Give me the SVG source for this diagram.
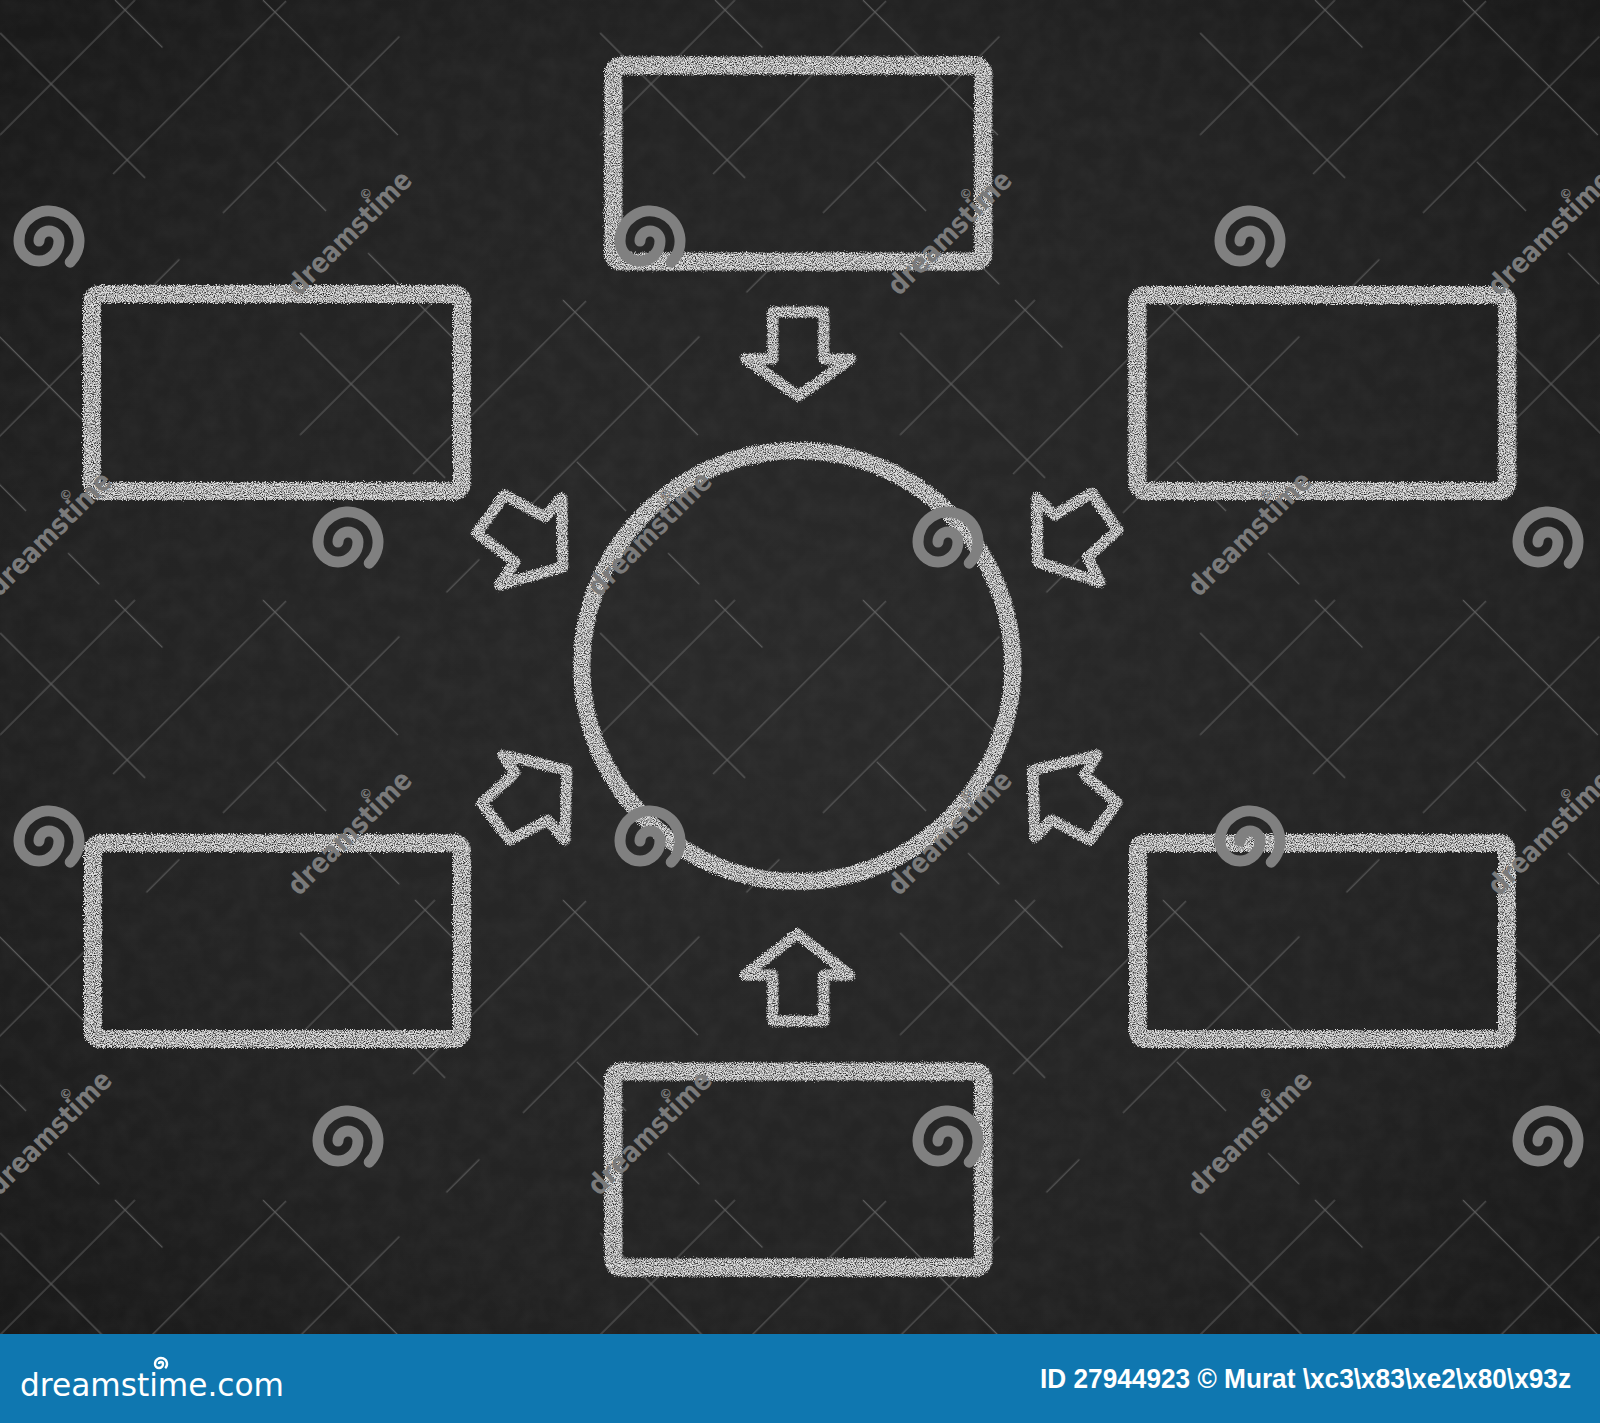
<svg xmlns="http://www.w3.org/2000/svg" xmlns:xlink="http://www.w3.org/1999/xlink" width="1600" height="1423" viewBox="0 0 1600 1423">
<defs>
<style>
.chalk{fill:none;stroke:#dedede;stroke-linejoin:round;stroke-linecap:round;filter:url(#chalkF)}
.box{stroke-width:18}
.ring{stroke-width:17}
.arr{stroke-width:11}
.wmtext{font-family:"DejaVu Sans","Liberation Sans",sans-serif;font-size:28px;font-weight:bold;fill:#7a7a7a}
.wmc{font-family:"DejaVu Sans","Liberation Sans",sans-serif;font-size:13px;font-weight:bold;fill:#7a7a7a}
.spiral{fill:none;stroke:#808080;stroke-width:11;stroke-linecap:round}
</style>
<radialGradient id="board" cx="50%" cy="47%" r="75%">
<stop offset="0" stop-color="#2a2a2a"/>
<stop offset="0.6" stop-color="#232323"/>
<stop offset="1" stop-color="#161616"/>
</radialGradient>
<filter id="chalkF" x="-10%" y="-10%" width="120%" height="120%" color-interpolation-filters="sRGB">
<feTurbulence type="fractalNoise" baseFrequency="0.9" numOctaves="2" seed="7" result="noise"/>
<feDisplacementMap in="SourceGraphic" in2="noise" scale="6" xChannelSelector="R" yChannelSelector="G" result="disp"/>
<feColorMatrix in="noise" type="matrix" values="0 0 0 0 0  0 0 0 0 0  0 0 0 0 0  2.8 0 0 0 -0.65" result="mask"/>
<feComposite in="disp" in2="mask" operator="in"/>
</filter>
<filter id="grain" x="0" y="0" width="100%" height="100%">
<feTurbulence type="fractalNoise" baseFrequency="0.05" numOctaves="3" seed="5"/>
<feColorMatrix type="matrix" values="0 0 0 0 1  0 0 0 0 1  0 0 0 0 1  0.05 0 0 0 -0.015"/>
</filter>
<pattern id="wmLines" patternUnits="userSpaceOnUse" width="424.26" height="424.26" patternTransform="translate(49 237) rotate(45)">
<path d="M245.4 314.6H424.26M0 314.6H26.2M303.3 210H370.5M108 210H177.5M237 210H281M0 105.4H174.7M408 105.4H424.26M317.5 195.9V386.8M0.8 89.8V334.5M106 34.6V284.3M108 347.9V394.6" fill="none" stroke="#8a8a8a" stroke-width="1.1" stroke-opacity="0.55"/>
</pattern>
<path id="sp" d="M-10 0 A10 10 0 0 1 10 0 A20 20 0 0 1 -30 0 A30 30 0 1 1 21.2 21.2"/>
</defs>

<rect x="0" y="0" width="1600" height="1423" fill="url(#board)"/>
<rect x="0" y="0" width="1600" height="1334" filter="url(#grain)"/>

<g id="connectors">
<polygon id="arrow-top" class="chalk arr" points="773,312 824,312 824,359 851,359 798.5,396 746,359 773,359"/>
<polygon id="arrow-bottom" class="chalk arr" points="797.5,934 850,975 824,975 824,1021 773,1021 773,975 745,975"/>
<polygon id="arrow-top-left" class="chalk arr" points="505,495 545,517 562,498 563,567 500,585 515,562 477,533"/>
<polygon id="arrow-top-right" class="chalk arr" points="1037,498 1055,515 1092,493 1118,530 1088,557 1100,582 1038,562"/>
<polygon id="arrow-bottom-left" class="chalk arr" points="503,755 567,770 565,840 548,820 510,840 482,803 515,773"/>
<polygon id="arrow-bottom-right" class="chalk arr" points="1033,770 1097,755 1085,775 1117,803 1090,840 1052,820 1035,837"/>
</g>

<g id="center-circle"><circle class="chalk ring" cx="797.5" cy="666" r="215.5"/></g>
<g id="box-top"><rect class="chalk box" x="613.5" y="65.5" width="370" height="196" rx="8"/></g>
<g id="box-left-top"><rect class="chalk box" x="92" y="294" width="370" height="197" rx="8"/></g>
<g id="box-right-top"><rect class="chalk box" x="1137.5" y="295" width="370" height="196" rx="8"/></g>
<g id="box-left-bottom"><rect class="chalk box" x="93" y="843" width="369" height="196" rx="8"/></g>
<g id="box-right-bottom"><rect class="chalk box" x="1138" y="843" width="369" height="196" rx="8"/></g>
<g id="box-bottom"><rect class="chalk box" x="613.5" y="1071.5" width="370" height="196" rx="8"/></g>

<g id="watermark">
<rect x="0" y="0" width="1600" height="1334" fill="url(#wmLines)"/>
<g class="spiral">
<use xlink:href="#sp" href="#sp" transform="translate(49 241)"/>
<use xlink:href="#sp" href="#sp" transform="translate(650 241)"/>
<use xlink:href="#sp" href="#sp" transform="translate(1250 241)"/>
<use xlink:href="#sp" href="#sp" transform="translate(348 542)"/>
<use xlink:href="#sp" href="#sp" transform="translate(948 542)"/>
<use xlink:href="#sp" href="#sp" transform="translate(1548 542)"/>
<use xlink:href="#sp" href="#sp" transform="translate(49 841)"/>
<use xlink:href="#sp" href="#sp" transform="translate(650 841)"/>
<use xlink:href="#sp" href="#sp" transform="translate(1250 841)"/>
<use xlink:href="#sp" href="#sp" transform="translate(348 1141)"/>
<use xlink:href="#sp" href="#sp" transform="translate(948 1141)"/>
<use xlink:href="#sp" href="#sp" transform="translate(1548 1141)"/>
</g>
<g>
<g transform="translate(350 233) rotate(-45)"><text class="wmtext" x="0" y="9" text-anchor="middle" textLength="162" lengthAdjust="spacingAndGlyphs">dreamstime</text><text class="wmc" x="39" y="-12" text-anchor="middle">©</text></g>
<g transform="translate(950 233) rotate(-45)"><text class="wmtext" x="0" y="9" text-anchor="middle" textLength="162" lengthAdjust="spacingAndGlyphs">dreamstime</text><text class="wmc" x="39" y="-12" text-anchor="middle">©</text></g>
<g transform="translate(1550 233) rotate(-45)"><text class="wmtext" x="0" y="9" text-anchor="middle" textLength="162" lengthAdjust="spacingAndGlyphs">dreamstime</text><text class="wmc" x="39" y="-12" text-anchor="middle">©</text></g>
<g transform="translate(50 534) rotate(-45)"><text class="wmtext" x="0" y="9" text-anchor="middle" textLength="162" lengthAdjust="spacingAndGlyphs">dreamstime</text><text class="wmc" x="39" y="-12" text-anchor="middle">©</text></g>
<g transform="translate(650 534) rotate(-45)"><text class="wmtext" x="0" y="9" text-anchor="middle" textLength="162" lengthAdjust="spacingAndGlyphs">dreamstime</text><text class="wmc" x="39" y="-12" text-anchor="middle">©</text></g>
<g transform="translate(1250 534) rotate(-45)"><text class="wmtext" x="0" y="9" text-anchor="middle" textLength="162" lengthAdjust="spacingAndGlyphs">dreamstime</text><text class="wmc" x="39" y="-12" text-anchor="middle">©</text></g>
<g transform="translate(350 833) rotate(-45)"><text class="wmtext" x="0" y="9" text-anchor="middle" textLength="162" lengthAdjust="spacingAndGlyphs">dreamstime</text><text class="wmc" x="39" y="-12" text-anchor="middle">©</text></g>
<g transform="translate(950 833) rotate(-45)"><text class="wmtext" x="0" y="9" text-anchor="middle" textLength="162" lengthAdjust="spacingAndGlyphs">dreamstime</text><text class="wmc" x="39" y="-12" text-anchor="middle">©</text></g>
<g transform="translate(1550 833) rotate(-45)"><text class="wmtext" x="0" y="9" text-anchor="middle" textLength="162" lengthAdjust="spacingAndGlyphs">dreamstime</text><text class="wmc" x="39" y="-12" text-anchor="middle">©</text></g>
<g transform="translate(50 1133) rotate(-45)"><text class="wmtext" x="0" y="9" text-anchor="middle" textLength="162" lengthAdjust="spacingAndGlyphs">dreamstime</text><text class="wmc" x="39" y="-12" text-anchor="middle">©</text></g>
<g transform="translate(650 1133) rotate(-45)"><text class="wmtext" x="0" y="9" text-anchor="middle" textLength="162" lengthAdjust="spacingAndGlyphs">dreamstime</text><text class="wmc" x="39" y="-12" text-anchor="middle">©</text></g>
<g transform="translate(1250 1133) rotate(-45)"><text class="wmtext" x="0" y="9" text-anchor="middle" textLength="162" lengthAdjust="spacingAndGlyphs">dreamstime</text><text class="wmc" x="39" y="-12" text-anchor="middle">©</text></g>
</g>
</g>

<g id="footer">
<rect x="0" y="1334" width="1600" height="89" fill="#0f77b0"/>
<text x="20" y="1396" font-family="DejaVu Sans, Liberation Sans, sans-serif" font-size="32" fill="#ffffff" textLength="264" lengthAdjust="spacingAndGlyphs">dreamstime.com</text>
<use xlink:href="#sp" href="#sp" transform="translate(161 1364) scale(0.2)" fill="none" stroke="#ffffff" stroke-width="12"/>
<text x="1040" y="1388" font-family="Liberation Sans, Arial, sans-serif" font-weight="bold" font-size="27" fill="#ffffff" textLength="531" lengthAdjust="spacingAndGlyphs">ID 27944923 © Murat \xc3\x83\xe2\x80\x93z</text>
</g>
</svg>
